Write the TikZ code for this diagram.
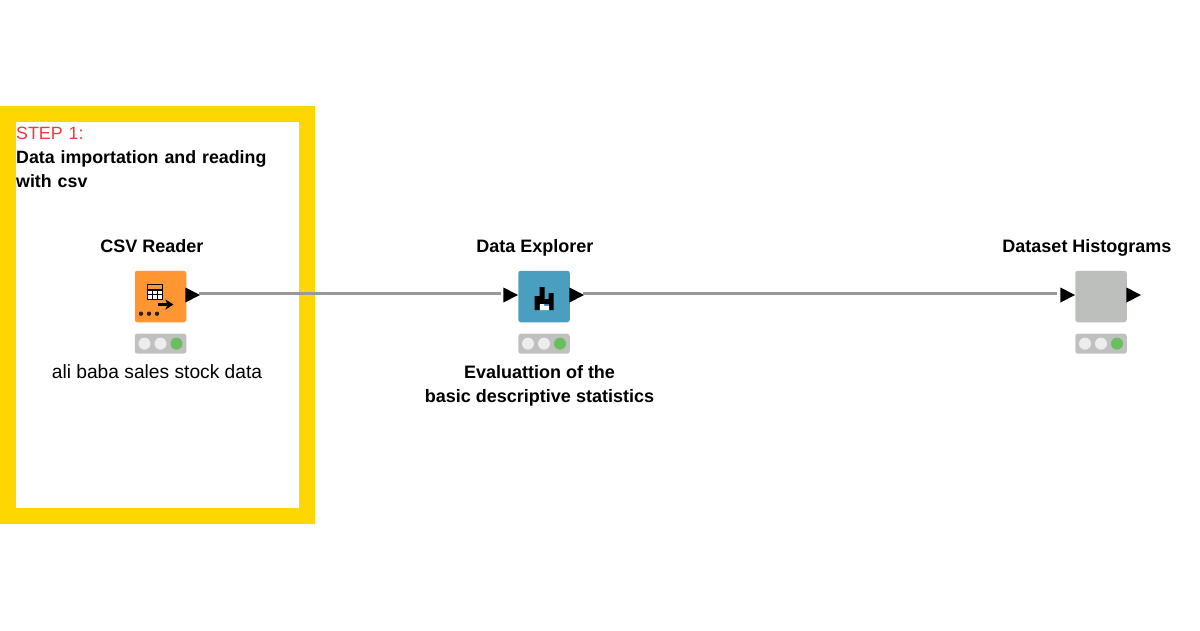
\documentclass[tikz,border=0pt]{standalone}
\usepackage{fontspec}
\setmainfont{Liberation Sans}
\usetikzlibrary{arrows.meta,positioning,shapes.geometric}
\definecolor{framey}{HTML}{FFD700}
\definecolor{steprd}{HTML}{F2383F}
\definecolor{readero}{HTML}{FF9632}
\definecolor{explorerb}{HTML}{4A9FC0}
\definecolor{histog}{HTML}{BDBFBD}
\definecolor{lampbar}{HTML}{C0C0C0}
\definecolor{lampoff}{HTML}{EDEDED}
\definecolor{lampon}{HTML}{69BE5F}
\definecolor{wire}{HTML}{999999}
\begin{document}
\begin{tikzpicture}
        [
            x = 1pt, y = -1pt,
            node distance = 11pt and 0pt,
            knime/.style = {
                draw=none, rectangle, rounded corners=2.5pt, inner sep=0pt,
                minimum width=51.5pt, minimum height=51.5pt},
            lampbar/.style = {
                rectangle, fill=lampbar, rounded corners=2.5pt, inner sep=0pt,
                minimum width=51.5pt, minimum height=20pt},
            lamp/.style = {circle, inner sep=0pt, minimum size=12pt},
            port/.style = {
                isosceles triangle, isosceles triangle stretches, fill=black,
                inner sep=0pt, minimum width=15pt, minimum height=14.5pt},
            wire/.style = {draw=wire, line width=3pt},
            title/.style = {font=\fontsize{18}{20}\selectfont\bfseries,
                text height=1.5ex, text depth=.25ex, inner sep=0pt},
            note/.style = {font=\fontsize{17.8}{24}\selectfont, align=left, inner sep=0pt}
        ]
        \useasboundingbox (0,0) rectangle (1200,630);
        % step frame
        \node [draw=framey, line width=16pt, rectangle, inner sep=0pt,
            minimum width=299pt, minimum height=401.5pt] (Frame) at (157.5,314.75) {};
        \node [note, anchor=north west, text width=270pt] (Step) at (16,127) {\textcolor{steprd}{STEP 1:}\\
            \textbf{Data importation and reading}\\ \textbf{with csv}};
        % nodes
        \node [knime, fill=readero] (Reader) at (160.5,296.5) {};
        \node [knime, fill=explorerb] (Explorer) at (544,296.5) {};
        \node [knime, fill=histog] (Histograms) at (1101,296.5) {};
        \node [title, above=16.5pt of Reader, xshift=-8.5pt] (ReaderName) {CSV Reader};
        \node [title, above=16.5pt of Explorer, xshift=-9pt] (ExplorerName) {Data Explorer};
        \node [title, above=16.5pt of Histograms, xshift=-14pt] (HistogramsName) {Dataset Histograms};
        \node [lampbar, below=of Reader] (ReaderBar) {};
        \node [lampbar, below=of Explorer] (ExplorerBar) {};
        \node [lampbar, below=of Histograms] (HistogramsBar) {};
        \foreach \name in {Reader,Explorer,Histograms} {
            \node [lamp, fill=lampoff] (\name Off1) at ([xshift=-16pt]\name Bar.center) {};
            \node [lamp, fill=lampoff] (\name Off2) at (\name Bar.center) {};
            \node [lamp, fill=lampon] (\name On) at ([xshift=16pt]\name Bar.center) {};
        }
        \node [font=\fontsize{19.2}{20}\selectfont, below=7pt of ReaderBar, xshift=-3.5pt] (ReaderNote) {ali baba sales stock data};
        \node [below=8pt of ExplorerBar, align=center, xshift=-4.5pt,
            font=\fontsize{18}{24}\selectfont\bfseries] (ExplorerNote) {Evaluattion of the\\ basic descriptive statistics};
        % ports
        \node [port, anchor=apex] (ReaderOut) at (200.5,295) {};
        \node [port, anchor=apex] (ExplorerIn) at (518.5,295) {};
        \node [port, anchor=apex] (ExplorerOut) at (584.5,295) {};
        \node [port, anchor=apex] (HistogramsIn) at (1075.5,295) {};
        \node [port, anchor=apex] (HistogramsOut) at (1141.5,295) {};
        \draw [wire, shorten <=-2pt, shorten >=2pt] ([yshift=1.5pt]ReaderOut.apex) -- ([yshift=1.5pt]ExplorerIn.west);
        \draw [wire, shorten <=-2pt, shorten >=3pt] ([yshift=1.5pt]ExplorerOut.apex) -- ([yshift=1.5pt]HistogramsIn.west);
        % reader icon
        \fill [white] (147.5,290) rectangle (162.5,299.5);
        \draw [black, line width=1.5pt] (147.5,284.5) rectangle (162.5,299.5);
        \draw [black, line width=1.5pt] (147.5,290) -- (162.5,290);
        \foreach \x in {152.5,157.5} \draw [black, line width=1.2pt] (\x,290) -- (\x,299.5);
        \draw [black, line width=1.2pt] (147.5,294.75) -- (162.5,294.75);
        \draw [black, line width=3pt, -{Stealth[length=8pt,width=10pt,inset=2pt]}] (158,304.5) -- (173.5,304.5);
        \foreach \x in {141,149,157} \fill [black!80!readero] (\x,313.7) circle (2.2pt);
        % explorer icon
        \fill [black] (534.5,296) -- (539.5,296) -- (539.5,287) -- (544.5,287) -- (544.5,299) -- (548.5,299)
            -- (548.5,293) -- (553.5,293) -- (553.5,310) -- (549,310) -- (549,304) -- (539.5,304) -- (539.5,310) -- (534.5,310) -- cycle;
        \fill [white] (540,304) -- (544,304) -- (544,306) -- (549,306) -- (549,310) -- (540,310) -- cycle;
    \end{tikzpicture}
\end{document}
